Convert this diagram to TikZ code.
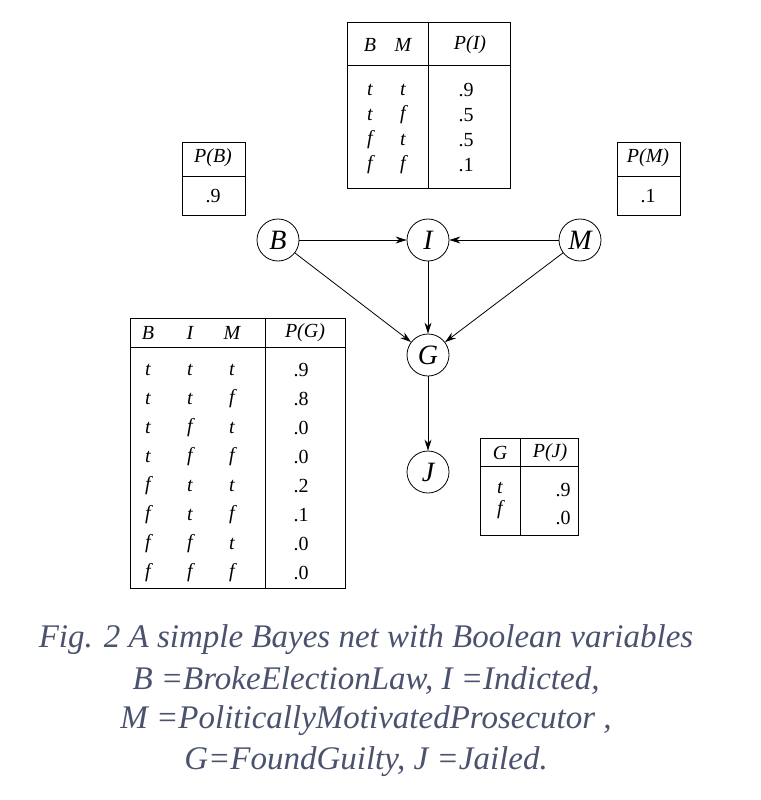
\documentclass[tikz,border=0pt]{standalone}
\usepackage{fontspec}
\setmainfont{Liberation Serif}[ItalicFont={Liberation Serif Italic}]
\usetikzlibrary{arrows.meta}
\definecolor{cap}{RGB}{74,82,110}
\begin{document}
\begin{tikzpicture}[x=1pt,y=-1pt,
  var/.style={circle,draw,thick,minimum size=42pt,inner sep=0pt,font=\fontsize{28}{28}\selectfont\itshape},
  edge/.style={-{Stealth[length=11pt,width=7pt]},thick},
  tb/.style={draw,thick},
  t/.style={font=\fontsize{20}{20}\selectfont\itshape,inner sep=0pt},
  n/.style={font=\fontsize{20}{20}\selectfont,inner sep=0pt},
  cp/.style={font=\fontsize{33}{33}\selectfont\itshape,text=cap,inner sep=0pt}]
\useasboundingbox (0,0) rectangle (760,800);
\node[var] (B) at (278,240) {B};
\node[var] (I) at (428,240) {I};
\node[var] (M) at (580,240) {M};
\node[var] (G) at (428,355) {G};
\node[var] (J) at (428,472) {J};
\draw[edge] (B) -- (I);
\draw[edge] (M) -- (I);
\draw[edge] (B) -- (G);
\draw[edge] (M) -- (G);
\draw[edge] (I) -- (G);
\draw[edge] (G) -- (J);
% P(I)
\draw[tb] (347,22) rectangle (510,188);
\draw[tb] (347,65) -- (510,65); \draw[tb] (428,22) -- (428,188);
\node[t] at (370,45) {B}; \node[t] at (403,45) {M}; \node[t] at (470,45) {P(I)};
\foreach \a/\b/\p [count=\k] in {t/t/.9,t/f/.5,f/t/.5,f/f/.1}{
  \node[t] at (370,65+\k*25) {\a}; \node[t] at (403,65+\k*25) {\b}; \node[n] at (466,65+\k*25) {\p};}
% P(B)
\draw[tb] (182,142) rectangle (245,215); \draw[tb] (182,176) -- (245,176);
\node[t] at (213,158) {P(B)}; \node[n] at (213,196) {.9};
% P(M)
\draw[tb] (617,142) rectangle (680,215); \draw[tb] (617,176) -- (680,176);
\node[t] at (648,158) {P(M)}; \node[n] at (648,196) {.1};
% P(G)
\draw[tb] (130,318) rectangle (345,588);
\draw[tb] (130,347) -- (345,347); \draw[tb] (265,318) -- (265,588);
\node[t] at (148,333) {B}; \node[t] at (190,333) {I}; \node[t] at (232,333) {M}; \node[t] at (305,333) {P(G)};
\foreach \a/\b/\c/\p [count=\k] in {t/t/t/.9,t/t/f/.8,t/f/t/.0,t/f/f/.0,f/t/t/.2,f/t/f/.1,f/f/t/.0,f/f/f/.0}{
  \node[t] at (148,341+\k*29) {\a}; \node[t] at (190,341+\k*29) {\b}; \node[t] at (232,341+\k*29) {\c}; \node[n] at (301,341+\k*29) {\p};}
% P(J)
\draw[tb] (480,438) rectangle (578,535);
\draw[tb] (480,466) -- (578,466); \draw[tb] (520,438) -- (520,535);
\node[t] at (500,453) {G}; \node[t] at (550,453) {P(J)};
\node[t] at (500,488) {t}; \node[t] at (500,510) {f};
\node[n] at (563,490) {.9}; \node[n] at (563,518) {.0};
% caption
\node[cp] at (366,640) {Fig. 2 A simple Bayes net with Boolean variables};
\node[cp] at (366,681) {B =BrokeElectionLaw, I =Indicted,};
\node[cp] at (366,721) {M =PoliticallyMotivatedProsecutor ,};
\node[cp] at (366,762) {G=FoundGuilty, J =Jailed.};
\end{tikzpicture}
\end{document}
